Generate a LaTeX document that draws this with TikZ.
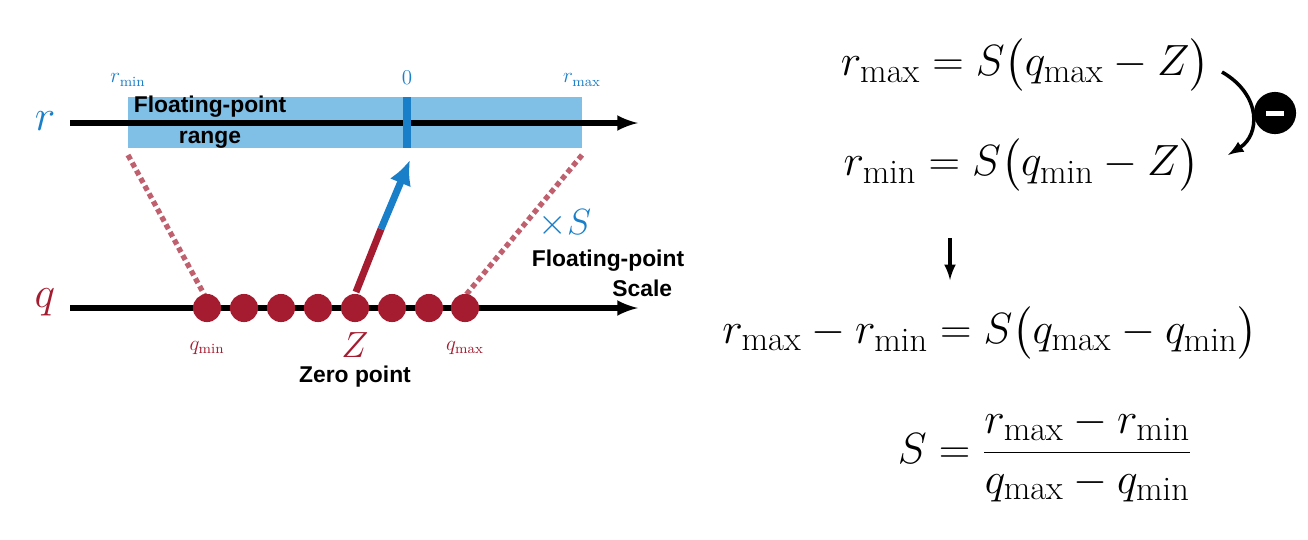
\documentclass[tikz,border=0pt]{standalone}
\usetikzlibrary{arrows.meta}
\usepackage{fontspec}
\newfontfamily\sans{Liberation Sans}
\usepackage{amsmath}
\definecolor{rb}{HTML}{1A7FC9}
\definecolor{lb}{HTML}{80BFE6}
\definecolor{qr}{HTML}{A51C30}
\definecolor{pk}{HTML}{C0606E}
\begin{document}
\begin{tikzpicture}[x=0.02cm,y=-0.02cm,
  lab/.style={font=\sans\bfseries\fontsize{13}{14}\selectfont, align=center},
  dot/.style={circle,fill=qr,inner sep=0,minimum size=16},
  eq/.style={font=\fontsize{28}{32}\selectfont, inner sep=0}]
\useasboundingbox (0,0) rectangle (1308,539);
\fill[lb] (128,97) rectangle (582,148);
\draw[line width=3pt,-latex] (70,123) -- (638,123);
\draw[rb,line width=5pt] (407,97) -- (407,148);
\node[lab,align=center] (fr) at (210,122) {Floating-point\\[4pt]range};
\node[rb,font=\fontsize{30}{32}\selectfont] (r) at (45,121) {$r$};
\node[rb,font=\large] (rmin) at (128,80) {$r_{\min}$};
\node[rb,font=\large] (zero) at (407,78) {$0$};
\node[rb,font=\large] (rmax) at (582,80) {$r_{\max}$};
\draw[line width=3pt,-latex] (70,308) -- (638,308);
\node[qr,font=\fontsize{30}{32}\selectfont] (q) at (45,302) {$q$};
\draw[pk,line width=3pt,dotted] (128,155) -- (205,296);
\draw[pk,line width=3pt,dotted] (582,155) -- (465,296);
\foreach \i/\x in {1/207,2/244,3/281,4/318,5/355,6/392,7/429,8/465}
  \node[dot] (d\i) at (\x,308) {};
\coordinate (a0) at (356,292);
\coordinate (am) at (381,229);
\coordinate (a1) at (410,160);
\draw[qr,line width=4pt] (a0) -- (am);
\draw[rb,line width=4pt,-{Latex[length=14pt,width=13pt]}] (am) -- (a1);
\node[rb,font=\fontsize{22}{24}\selectfont] (xs) at (565,224) {$\times S$};
\node[lab] (fs) at (608,273) {Floating-point\\[3pt]\hspace*{3em}Scale};
\node[qr,font=\large] (qmin) at (207,348) {$q_{\min}$};
\node[qr,font=\fontsize{22}{24}\selectfont] (Z) at (355,345) {$Z$};
\node[qr,font=\large] (qmax) at (465,348) {$q_{\max}$};
\node[lab] (zp) at (355,377) {Zero point};
\node[eq,anchor=east] (e1) at (1210,65) {$r_{\max} = S\bigl(q_{\max} - Z\bigr)$};
\node[eq,anchor=east] (e2) at (1200,165) {$r_{\min} = S\bigl(q_{\min} - Z\bigr)$};
\draw[line width=2pt,-latex] (950,238) -- (950,280);
\node[eq] (e3) at (990,333) {$r_{\max} - r_{\min} = S\bigl(q_{\max} - q_{\min}\bigr)$};
\node[eq] (e4) at (1045,455) {$S = \dfrac{r_{\max} - r_{\min}}{q_{\max} - q_{\min}}$};
\draw[line width=2pt,-latex] (1222,72) .. controls (1262,95) and (1260,135) .. (1228,155);
\node[circle,fill=black,minimum size=24,inner sep=0] (m) at (1275,113) {};
\fill[white] (1266,111) rectangle (1284,116);
\end{tikzpicture}
\end{document}
